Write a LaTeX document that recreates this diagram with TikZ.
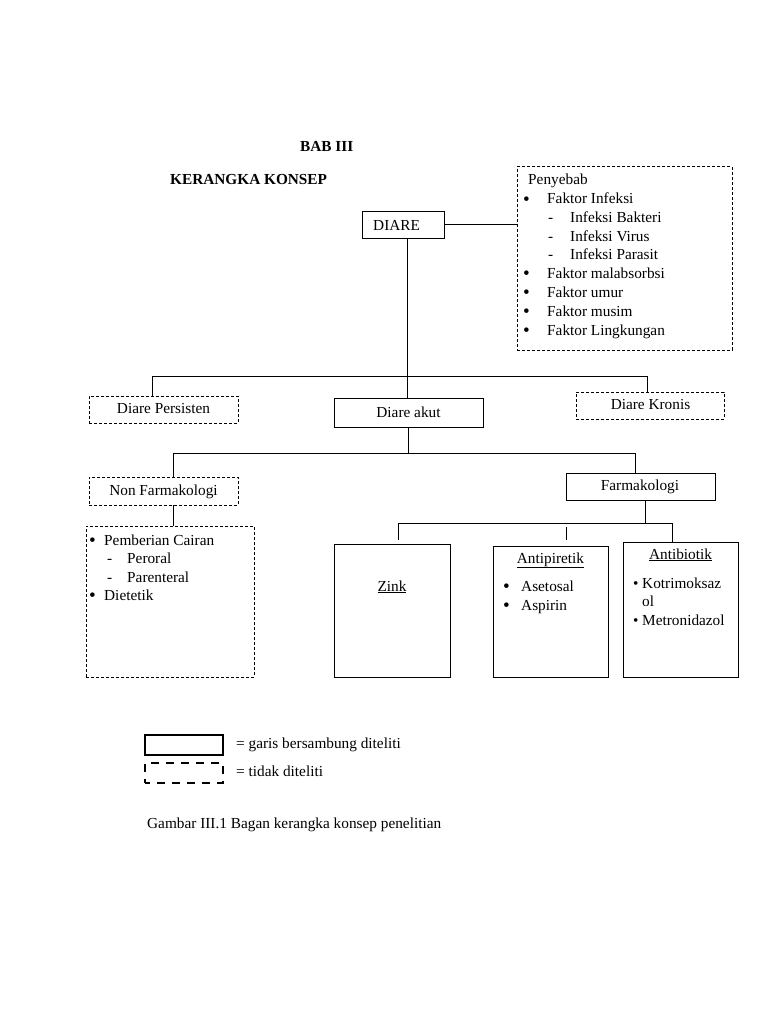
\documentclass[tikz,border=0pt]{standalone}
\usepackage{fontspec}
\setmainfont{Liberation Serif}
\newcommand{\bigbul}{\raisebox{-1.4pt}{\scalebox{1.25}{•}}}
\begin{document}
\begin{tikzpicture}[x=1pt,y=-1pt,
  font=\fontsize{15.3pt}{18pt}\selectfont,
  txt/.style={inner sep=0pt, anchor=base west},
  ctxt/.style={inner sep=0pt, anchor=base},
  sbox/.style={draw, line width=1pt, inner sep=0pt, outer sep=0pt},
  dbox/.style={draw, line width=1pt, dash pattern=on 3pt off 2pt, inner sep=0pt, outer sep=0pt},
  lsbox/.style={draw, line width=2.2pt, inner sep=0pt, outer sep=0pt},
  ldbox/.style={draw, line width=2.4pt, dash pattern=on 8pt off 7pt, dash phase=3pt, inner sep=0pt, outer sep=0pt},
  conn/.style={line width=1pt}]
\fill[white] (0,0) rectangle (768,1024);
\useasboundingbox (0,0) rectangle (768,1024);
\newcommand{\mybox}[6]{\node[#1, minimum width={#5pt-#3pt}, minimum height={#6pt-#4pt}] (#2) at ({(#3+#5)/2},{(#4+#6)/2}) {};}
% titles
\node[txt, font=\fontsize{15.3pt}{18pt}\selectfont\bfseries] (bab) at (300,152) {BAB III};
\node[txt, font=\fontsize{15.3pt}{18pt}\selectfont\bfseries] (judul) at (170,185) {KERANGKA KONSEP};
% boxes
\mybox{sbox}{diare}{362}{212}{444}{238}
\mybox{dbox}{peny}{517}{167}{732}{350}
\mybox{dbox}{persisten}{89}{396}{238}{423}
\mybox{sbox}{akut}{334}{398}{483}{427}
\mybox{dbox}{kronis}{576}{392}{724}{419}
\mybox{dbox}{nonfarm}{89}{477}{238}{505}
\mybox{sbox}{farm}{566}{473}{715}{500}
\mybox{dbox}{list}{86}{526}{254}{677}
\mybox{sbox}{zink}{334}{544}{450}{677}
\mybox{sbox}{antipir}{493}{546}{608}{677}
\mybox{sbox}{antibio}{623}{542}{738}{677}
\mybox{lsbox}{legs}{145}{735}{223}{755}
\mybox{ldbox}{legd}{145}{763}{223}{783}
% box labels
\node[txt] (tdiare) at (373,230) {DIARE};
\node[ctxt] (tpers) at (163.5,413) {Diare Persisten};
\node[ctxt] (takut) at (408.5,417) {Diare akut};
\node[ctxt] (tkron) at (650.5,409) {Diare Kronis};
\node[ctxt] (tnonf) at (163.5,495) {Non Farmakologi};
\node[ctxt] (tfarm) at (640,490) {Farmakologi};
\node[ctxt] (tzink) at (392,591) {\underline{Zink}};
\node[ctxt] (tapir) at (550.5,563) {\underline{Antipiretik}};
\node[ctxt] (tabio) at (680.5,559) {\underline{Antibiotik}};
% Penyebab list
\node[txt] (p0) at (528,185) {Penyebab};
\node[txt] (pb1) at (523,204) {\bigbul};
\node[txt] (p1) at (547,204) {Faktor Infeksi};
\node[txt] (pd1) at (548,222.7) {-};
\node[txt] (p2) at (570,222.7) {Infeksi Bakteri};
\node[txt] (pd2) at (548,241) {-};
\node[txt] (p3) at (570,241) {Infeksi Virus};
\node[txt] (pd3) at (548,259) {-};
\node[txt] (p4) at (570,259) {Infeksi Parasit};
\node[txt] (pb5) at (523,278) {\bigbul};
\node[txt] (p5) at (547,278) {Faktor malabsorbsi};
\node[txt] (pb6) at (523,297) {\bigbul};
\node[txt] (p6) at (547,297) {Faktor umur};
\node[txt] (pb7) at (523,316) {\bigbul};
\node[txt] (p7) at (547,316) {Faktor musim};
\node[txt] (pb8) at (523,335) {\bigbul};
\node[txt] (p8) at (547,335) {Faktor Lingkungan};
% Non farmakologi list
\node[txt] (nb1) at (89,545) {\bigbul};
\node[txt] (n1) at (104,545) {Pemberian Cairan};
\node[txt] (nd2) at (107,563) {-};
\node[txt] (n2) at (127,563) {Peroral};
\node[txt] (nd3) at (107,582) {-};
\node[txt] (n3) at (127,582) {Parenteral};
\node[txt] (nb4) at (89,600) {\bigbul};
\node[txt] (n4) at (104,600) {Dietetik};
% Antipiretik list
\node[txt] (ab1) at (503,591) {\bigbul};
\node[txt] (a1) at (521,591) {Asetosal};
\node[txt] (ab2) at (503,610) {\bigbul};
\node[txt] (a2) at (521,610) {Aspirin};
% Antibiotik list
\node[txt] (bb1) at (633,588) {•};
\node[txt] (b1) at (642,588) {Kotrimoksaz};
\node[txt] (b1b) at (642,606) {ol};
\node[txt] (bb2) at (633,625) {•};
\node[txt] (b2) at (642,625) {Metronidazol};
% legend texts
\node[txt] (lt1) at (236,748) {= garis bersambung diteliti};
\node[txt] (lt2) at (236,776) {= tidak diteliti};
\node[txt] (cap) at (147,828) {Gambar III.1 Bagan kerangka konsep penelitian};
% junction coordinates
\coordinate (v0) at (407,238);
\coordinate (l1a) at (152,376);
\coordinate (l1b) at (647,376);
\coordinate (l2a) at (173,453);
\coordinate (l2m) at (408,453);
\coordinate (l2b) at (635,453);
\coordinate (l3a) at (398,523.5);
\coordinate (l3f) at (645,523.5);
\coordinate (l3b) at (672,523.5);
\coordinate (ez) at (398,540);
\coordinate (ea) at (566,540);
\coordinate (sa) at (566,527);
% connectors
\draw[conn] (diare.east) -- (diare.east -| peny.west);
\draw[conn] (v0) -- (v0 |- akut.north);
\draw[conn] (l1a |- persisten.north) -- (l1a) -- (l1b) -- (l1b |- kronis.north);
\draw[conn] (l2m |- akut.south) -- (l2m);
\draw[conn] (l2a |- nonfarm.north) -- (l2a) -- (l2b) -- (l2b |- farm.north);
\draw[conn] (l2a |- nonfarm.south) -- (l2a |- list.north);
\draw[conn] (l3f |- farm.south) -- (l3f);
\draw[conn] (ez) -- (l3a) -- (l3b) -- (l3b |- antibio.north);
\draw[conn] (sa) -- (ea);
\end{tikzpicture}
\end{document}
